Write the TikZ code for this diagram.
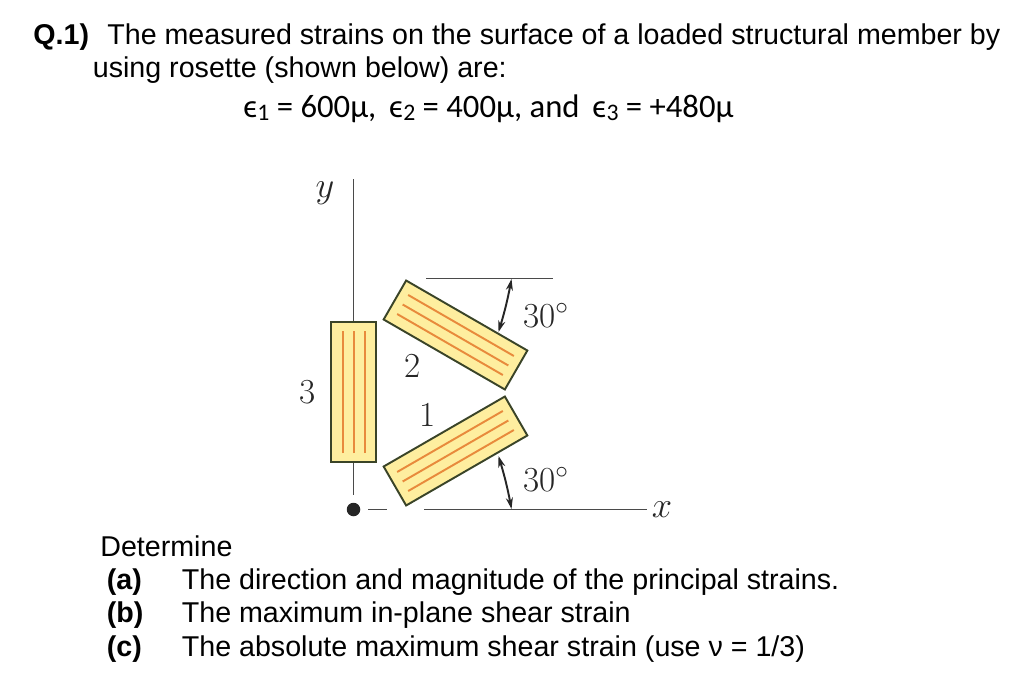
\documentclass[tikz,border=0pt]{standalone}
\usepackage{xcolor}
\usepackage{fontspec}
\usetikzlibrary{arrows.meta}
\newfontfamily\arialfont{Liberation Sans}
\newfontfamily\calibrifont{Carlito}
\definecolor{gaugefill}{HTML}{FEEE9F}
\definecolor{gaugeedge}{HTML}{3A4428}
\definecolor{wirecolor}{HTML}{E88A3C}
\definecolor{axiscolor}{HTML}{4A4A4A}
\newcommand{\strainsym}[1]{ϵ\raisebox{-0.25ex}{\fontsize{13.5}{15}\selectfont #1}}
\tikzset{
  qtext/.style={anchor=base west,inner sep=0pt,font=\arialfont\fontsize{16.3}{19}\selectfont},
  formula/.style={anchor=base west,inner sep=0pt,font=\calibrifont\fontsize{18.6}{20}\selectfont},
  figlabel/.style={text=black!85,inner sep=0pt,font=\fontsize{20}{22}\selectfont},
  gaugebox/.style={draw=gaugeedge,fill=gaugefill,line width=1.1pt,minimum width=2.8cm,minimum height=0.9cm,inner sep=0pt,outer sep=0pt},
  axisline/.style={draw=axiscolor,line width=1.05pt},
  wire/.style={draw=wirecolor,line width=1.1pt}
}
\begin{document}
\begin{tikzpicture}[x=0.02cm,y=-0.02cm,>={Stealth[length=6.5pt,width=4pt]}]
  \useasboundingbox (0,0) rectangle (1024,679);

  \node[qtext] (qnum) at (33,45) {\bfseries Q.1)};
  \node[qtext] (line1) at (107,45) {The measured strains on the surface of a loaded structural member by};
  \node[qtext] (line2) at (92.5,78) {using rosette (shown below) are:};
  \node[formula] (strains) at (243,117) {\strainsym{1} = 600μ,\, \strainsym{2} = 400μ, and\, \strainsym{3} = +480μ};

  \coordinate (ytop) at (353.5,179);
  \coordinate (ybot) at (353.5,495);
  \coordinate (dashl) at (368,509.5);
  \coordinate (dashr) at (387,509.5);
  \coordinate (xleft) at (424,509.5);
  \coordinate (xright) at (647,509.5);
  \coordinate (refl) at (426,278.5);
  \coordinate (refr) at (553,278.5);
  \coordinate (arr2a) at (511.5,279);
  \coordinate (arr2b) at (498.5,332);
  \coordinate (arr1a) at (498.5,456);
  \coordinate (arr1b) at (511.5,509);

  \draw[axisline] (ytop) -- (ybot);
  \draw[axisline] (dashl) -- (dashr);
  \draw[axisline] (xleft) -- (xright);
  \draw[axisline] (refl) -- (refr);
  \node[circle,fill=black!85,minimum size=0.27cm,inner sep=0pt] (origin) at (353.5,509.5) {};

  \foreach \gname/\cx/\cy/\ang in {gaugeone/455.5/451/30,gaugetwo/455.5/335/-30,gaugethree/353.8/392/90} {
    \node[gaugebox,rotate=\ang] (\gname) at (\cx,\cy) {};
    \begin{scope}[shift={(\cx,\cy)},rotate=\ang]
      \foreach \off in {-11,0,11}
        \draw[wire] (-61,\off) -- (61,\off);
    \end{scope}
  }

  \draw[<->,black!85,line width=1.1pt] (arr2a) to[bend left=3] (arr2b);
  \draw[<->,black!85,line width=1.1pt] (arr1a) to[bend left=3] (arr1b);

  \node[figlabel] (ylab) at (325,193) {$y$};
  \node[figlabel] (xlab) at (662,510) {$x$};
  \node[figlabel] (lab3) at (308,392) {3};
  \node[figlabel] (lab2) at (413,366) {2};
  \node[figlabel] (lab1) at (428,415) {1};
  \node[figlabel] (angtop) at (546,316) {30$^\circ$};
  \node[figlabel] (angbot) at (546,480) {30$^\circ$};

  \node[qtext] (det) at (100,556) {Determine};
  \node[qtext] (parta) at (106.5,589) {\bfseries (a)};
  \node[qtext] (texta) at (181.5,589) {The direction and magnitude of the principal strains.};
  \node[qtext] (partb) at (106.5,622) {\bfseries (b)};
  \node[qtext] (textb) at (181.5,622) {The maximum in-plane shear strain};
  \node[qtext] (partc) at (106.5,656) {\bfseries (c)};
  \node[qtext] (textc) at (181.5,656) {The absolute maximum shear strain (use ν = 1/3)};
\end{tikzpicture}
\end{document}
